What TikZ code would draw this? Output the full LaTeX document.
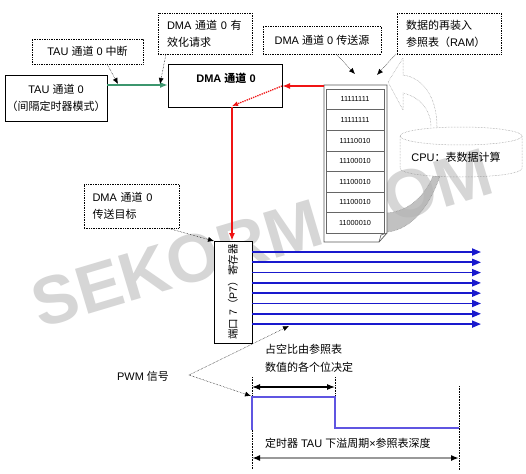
\documentclass[tikz,border=0pt]{standalone}
\usepackage{fontspec}
\setmainfont{Liberation Sans}
\newfontfamily\cjk{Noto Sans CJK SC}
\newcommand{\zh}[1]{{\cjk #1}}
\usetikzlibrary{arrows.meta,calc}
\definecolor{tgreen}{RGB}{60,150,110}
\definecolor{tred}{RGB}{240,20,20}
\definecolor{tblue}{RGB}{25,25,205}
\definecolor{pwmblue}{RGB}{95,85,225}
\definecolor{wmgray}{RGB}{214,214,214}
\begin{document}
\begin{tikzpicture}[x=1pt,y=-1pt,
  every node/.style={font=\fontsize{11}{17}\selectfont, inner sep=0pt, outer sep=0pt},
  solidbox/.style={draw, line width=0.8pt, fill=white},
  notebox/.style={draw, densely dotted, line width=0.7pt, fill=white},
  callout/.style={densely dotted, line width=0.5pt, -{Latex[length=6pt,width=5pt]}},
  redline/.style={tred, line width=1.6pt},
  bluearrow/.style={draw=tblue, line width=1.7pt, -{Triangle[length=9pt,width=7pt,color=tblue]}},
  cell/.style={draw=black!60, line width=0.6pt, fill=white, minimum width=58, minimum height=20.6, font=\fontsize{7.3}{8}\selectfont},
  guide/.style={densely dotted, line width=0.6pt},
  dimarrow/.style={line width=1.1pt, {Latex[length=8pt,width=6pt]}-{Latex[length=8pt,width=6pt]}},
  ghost/.style={draw=black!45, densely dotted, line width=0.5pt}
]
\useasboundingbox (0,0) rectangle (526,473);
\fill[white] (0,0) rectangle (526,473);

% watermark
\node[rotate=16.6, text=wmgray, font=\fontsize{68}{68}\selectfont\bfseries] (wm) at (262,238) {SEKORM.COM};

% curved hollow arrow from CPU to table
\draw[ghost] (437,127) .. controls (437,100) and (425,78) .. (403,75) -- (403,58) -- (388,82) -- (403,110) -- (403,93) .. controls (420,97) and (431,110) .. (431,127);
% grey band
\fill[black!30, opacity=0.8] (433,176) .. controls (425,195) and (410,211) .. (387,213) -- (387,232) .. controls (412,230) and (430,205) .. (440,176) -- cycle;
\draw[ghost] (433,176) .. controls (425,195) and (410,211) .. (387,213);
\draw[ghost] (387,232) .. controls (412,230) and (430,205) .. (440,176);

% top boxes
\node[solidbox, minimum width=102, minimum height=46, align=center] (tau) at (56,98) {TAU \zh{通道} 0\\\zh{（间隔定时器模式）}};
\node[notebox, minimum width=111, minimum height=25] (tauint) at (87.5,51.5) {TAU \zh{通道} 0 \zh{中断}};
\node[notebox, minimum width=94, minimum height=41, text width=76, align=left] (dmareq) at (205,33.5) {DMA \zh{通道} 0 \zh{有}\\\zh{效化请求}};
\node[solidbox, minimum width=114, minimum height=43] (dma) at (225,85.5) {};
\node[font=\fontsize{11}{13}\selectfont\bfseries] (dmalbl) at (226,78) {DMA \zh{通道} 0};
\node[notebox, minimum width=118, minimum height=28] (src) at (322,40) {DMA \zh{通道} 0 \zh{传送源}};
\node[notebox, minimum width=104, minimum height=41, text width=86, align=left] (ram) at (449,33.5) {\zh{数据的再装入}\\\zh{参照表（}RAM\zh{）}};

% table (RAM)
\draw[draw=black!65, line width=0.7pt, fill=white] (324,85) -- (387,85) -- (387,233) -- (379,242) -- (324,242) -- cycle;
\draw[draw=black!65, line width=0.6pt] (379,242) -- (381,235) -- (387,233);
\foreach \v [count=\i from 0] in {11111111,11111111,11110010,11100010,11100010,11100010,11000010} {
  \node[cell] (c\i) at (355,99.3+20.6*\i) {\v};
}
\coordinate (tabtop) at (324,86);

% CPU cylinder
\draw[ghost] (461,136) ellipse [x radius=61, y radius=9];
\draw[ghost] (400,136) -- (400,168) .. controls (400,180) and (522,180) .. (522,168) -- (522,136);
\node (cpu) at (456,157) {CPU\zh{：表数据计算}};

% green & red connectors
\draw[tgreen, line width=1.8pt, -{Latex[length=8pt,width=6pt]}] (tau.east |- 0,85) -- (dma.west |- 0,85);
\coordinate (redtip) at (282,86);
\coordinate (redcorner) at (232,106);
\draw[redline, -{Latex[length=8pt,width=6pt]}] (tabtop) -- (redtip);
\draw[tred, densely dotted, line width=1.3pt, -{Latex[length=6pt,width=5pt]}] (redtip) -- (redcorner);

% callout arrows (top)
\draw[callout] (107,64) -- (118,84);
\draw[callout] (166,54) -- (160,84);
\draw[callout] (336,54) -- (355,74);
\draw[callout] (396,54) -- (377,75);

% target box & port
\node[notebox, minimum width=95, minimum height=44, text width=78, align=left] (target) at (131.5,206) {DMA \zh{通道} 0\\\zh{传送目标}};
\node[solidbox, minimum width=38, minimum height=102] (port) at (233,292) {};
\node[rotate=90, font=\fontsize{10.5}{12}\selectfont] (portlbl) at (233,292) {\zh{端口} 7\zh{（}P7\zh{）寄存器}};
\draw[redline, -{Latex[length=8pt,width=6pt]}] (232,107) -- (port.north -| 232,0);
\draw[callout] (167,228) -- (port.north west);

% blue output lines
\foreach \i in {0,...,7} {
  \coordinate (bs\i) at (252,252+10.3*\i);
  \coordinate (be\i) at (481,252+10.3*\i);
  \draw[bluearrow] (bs\i) -- (be\i);
}

% PWM part
\node (pwm) at (143,376) {PWM \zh{信号}};
\coordinate (pwmstart) at (252,397);
\coordinate (linept) at (289,326);
\draw[callout] (189,375) -- (linept);
\draw[callout] (189,375) -- (251,396);
\node[align=left, anchor=west, font=\fontsize{11}{18}\selectfont] (duty) at (265,358) {\zh{占空比由参照表}\\\zh{数值的各个位决定}};
\coordinate (g1t) at (252,377); \coordinate (g1b) at (252,469);
\coordinate (g2t) at (335,377); \coordinate (g2b) at (335,400);
\coordinate (g3t) at (459,386); \coordinate (g3b) at (459,470);
\draw[guide] (g1t) -- (g1b);
\draw[guide] (g2t) -- (g2b);
\draw[guide] (g3t) -- (g3b);
\draw[dimarrow] (252,387) -- (335,387);
\draw[pwmblue, line width=1.3pt] (252,430) -- (pwmstart) -- (335,397) -- (335,428) -- (459,428);
\node[anchor=west] (period) at (265,443) {\zh{定时器} TAU \zh{下溢周期}×\zh{参照表深度}};
\draw[draw=black!40, line width=1.8pt, {Latex[length=8pt,width=6pt,color=black]}-{Latex[length=8pt,width=6pt,color=black]}] (252,458) -- (459,458);
\end{tikzpicture}
\end{document}
